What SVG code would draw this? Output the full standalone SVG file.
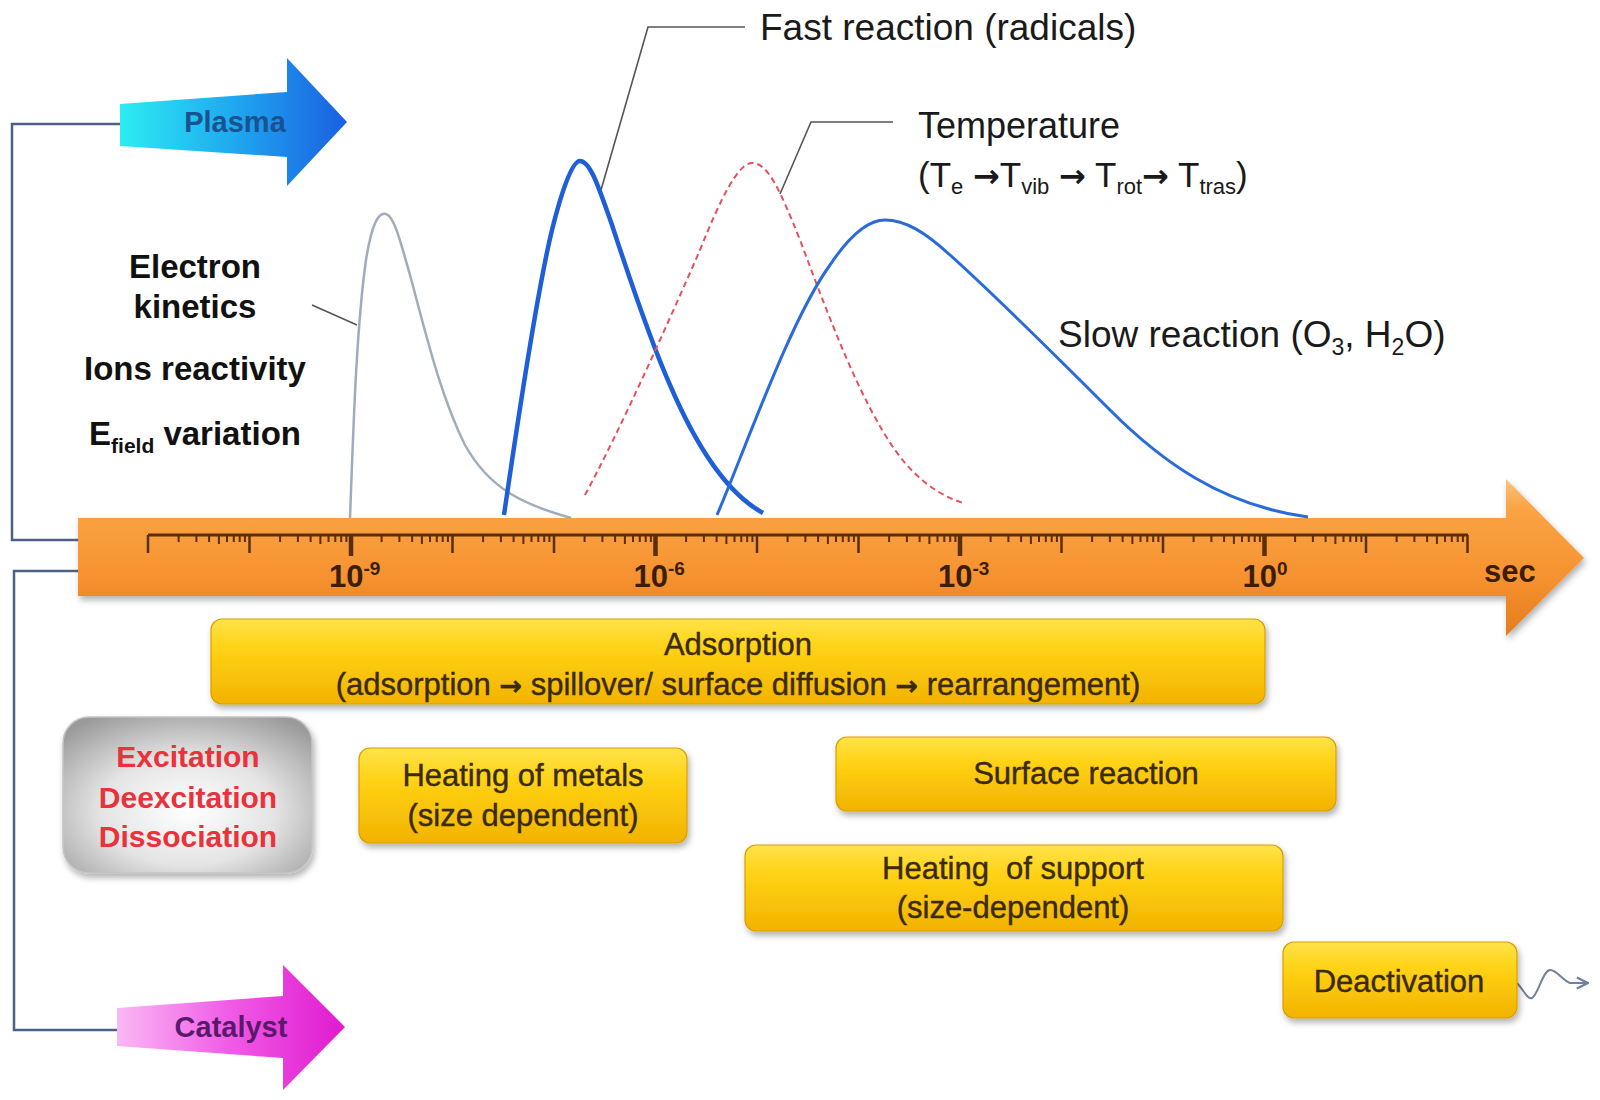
<svg xmlns="http://www.w3.org/2000/svg" xmlns:xlink="http://www.w3.org/1999/xlink" width="1600" height="1100" viewBox="0 0 1600 1100">
<defs>
<style>
.lbl{font-family:"Liberation Sans",Arial,sans-serif;fill:#1a1a1a}
.bold{font-family:"Liberation Sans",Arial,sans-serif;font-weight:bold;fill:#111}
.box{fill:url(#yg);stroke:#D9A000;stroke-width:1.2;filter:url(#sh)}
.btxt{font-family:"Liberation Sans",Arial,sans-serif;font-size:31px;fill:#3A2A05;stroke:#3A2A05;stroke-width:0.4;text-anchor:middle}
.arr{font-family:"DejaVu Sans",sans-serif;font-weight:bold}
.red{font-family:"Liberation Sans",Arial,sans-serif;font-weight:bold;font-size:30px;fill:#E8323C;text-anchor:middle}
.axis{font-family:"Liberation Sans",Arial,sans-serif;font-weight:bold;font-size:31px;fill:#3A1E06}
.lead{fill:none;stroke:#555;stroke-width:1.6}
.brk{fill:none;stroke:#4A6284;stroke-width:2.5}
.tick{stroke:#5A2E08;fill:none}
</style>
<linearGradient id="yg" x1="0" y1="0" x2="0" y2="1">
<stop offset="0" stop-color="#FFE34A"/>
<stop offset="0.35" stop-color="#FFD214"/>
<stop offset="1" stop-color="#F2B300"/>
</linearGradient>
<linearGradient id="og" x1="0" y1="0" x2="0" y2="1">
<stop offset="0" stop-color="#FBC47E"/>
<stop offset="0.18" stop-color="#F9A445"/>
<stop offset="0.6" stop-color="#F79331"/>
<stop offset="1" stop-color="#E47C1C"/>
</linearGradient>
<linearGradient id="pg" x1="0" y1="0" x2="1" y2="0">
<stop offset="0" stop-color="#2CECF2"/>
<stop offset="0.5" stop-color="#1FA8F0"/>
<stop offset="1" stop-color="#1A5FE0"/>
</linearGradient>
<linearGradient id="cg" x1="0" y1="0" x2="1" y2="0">
<stop offset="0" stop-color="#FAB8F4"/>
<stop offset="0.5" stop-color="#F05AE6"/>
<stop offset="1" stop-color="#E01ACE"/>
</linearGradient>
<radialGradient id="sg" cx="0.5" cy="0.6" r="0.7">
<stop offset="0" stop-color="#FFFFFF"/>
<stop offset="0.5" stop-color="#E4E4E4"/>
<stop offset="1" stop-color="#9A9A9A"/>
</radialGradient>
<filter id="sh" x="-10%" y="-20%" width="125%" height="150%">
<feDropShadow dx="2" dy="4" stdDeviation="3" flood-color="#000" flood-opacity="0.3"/>
</filter>
<g id="dec" class="tick">
<path d="M0,0v18" stroke-width="2.5"/>
<path d="M30.6,0v7M48.4,0v7M61.1,0v7M70.9,0v9M79,0v7M85.8,0v7M91.7,0v7M96.9,0v7" stroke-width="2"/>
</g>
<marker id="oa" viewBox="0 0 10 10" refX="9" refY="5" markerWidth="7" markerHeight="7" orient="auto">
<path d="M1,1L9,5L1,9" fill="none" stroke="#7080A0" stroke-width="1.6"/>
</marker>
</defs>
<rect width="1600" height="1100" fill="#FFFFFF"/>

<g id="connectors">
<path class="brk" d="M122,124H12V540H80"/>
<path class="brk" d="M80,571H14V1030H119"/>
<path class="lead" d="M312,305L357,325"/>
<path class="lead" d="M601,190L648,27H745"/>
<path class="lead" d="M780,194L811,122H893"/>
<path d="M1517,983C1524,990 1527,1000 1532,998C1538,995 1543,970 1550,970C1557,970 1562,980 1570,983L1588,983" fill="none" stroke="#7080A0" stroke-width="2" marker-end="url(#oa)"/>
</g>

<g id="timeline">
<path d="M78,518H1506V479L1584,558L1506,636V596H78Z" fill="url(#og)" filter="url(#sh)"/>
<path class="tick" d="M148,535H1468" stroke-width="3"/>
<use xlink:href="#dec" x="148" y="535"/>
<use xlink:href="#dec" x="249.5" y="535"/>
<use xlink:href="#dec" x="351" y="535"/>
<use xlink:href="#dec" x="452.5" y="535"/>
<use xlink:href="#dec" x="554" y="535"/>
<use xlink:href="#dec" x="655.5" y="535"/>
<use xlink:href="#dec" x="757" y="535"/>
<use xlink:href="#dec" x="858.5" y="535"/>
<use xlink:href="#dec" x="960" y="535"/>
<use xlink:href="#dec" x="1061.5" y="535"/>
<use xlink:href="#dec" x="1163" y="535"/>
<use xlink:href="#dec" x="1264.5" y="535"/>
<use xlink:href="#dec" x="1366" y="535"/>
<path class="tick" d="M1467.5,535v18" stroke-width="2.5"/>
<path class="tick" d="M351,535v21M655.5,535v21M960,535v21M1264.5,535v21" stroke-width="4.5"/>
<text class="axis" x="329" y="587">10<tspan font-size="19" dy="-12">-9</tspan></text>
<text class="axis" x="633.5" y="587">10<tspan font-size="19" dy="-12">-6</tspan></text>
<text class="axis" x="938" y="587">10<tspan font-size="19" dy="-12">-3</tspan></text>
<text class="axis" x="1242.5" y="587">10<tspan font-size="19" dy="-12">0</tspan></text>
<text class="axis" x="1484" y="582" font-size="30">sec</text>
</g>

<g id="plasma">
<path d="M120,104L287,92V58L347,122L287,186V157L120,146Z" fill="url(#pg)"/>
<text class="bold" x="235" y="132" font-size="29" style="fill:#1A5290" text-anchor="middle">Plasma</text>
</g>

<g id="catalyst">
<path d="M117,1008L283,996V965L345,1027L283,1090V1058L117,1046Z" fill="url(#cg)"/>
<text class="bold" x="231" y="1037" font-size="29" style="fill:#5A1A6C" text-anchor="middle">Catalyst</text>
</g>

<g id="curves">
<path id="electron-curve" d="M350,518C353,440 356,330 366,260C372,222 379,212 386,214C394,216 400,240 410,275C425,330 440,395 465,445C490,490 525,505 571,518" fill="none" stroke="#A0ACBA" stroke-width="2.5"/>
<path id="fast-curve" d="M504,515C515,440 535,300 552,230C562,190 572,161 580,161C590,161 598,185 612,225C630,280 650,340 670,385C700,455 730,495 763,513" fill="none" stroke="#1E5FD8" stroke-width="4.5"/>
<path id="temp-curve" d="M585,495C620,430 665,330 700,250C720,200 738,163 752,163C768,163 780,190 800,240C830,320 860,400 895,450C920,485 945,497 963,503" fill="none" stroke="#E8505E" stroke-width="2" stroke-dasharray="6,4"/>
<path id="slow-curve" d="M717,515C745,450 790,320 830,265C850,235 868,220 885,220C905,220 925,232 950,255C1000,300 1060,360 1110,410C1160,460 1220,505 1308,517" fill="none" stroke="#2A6BDB" stroke-width="3"/>
</g>

<g id="labels">
<text class="lbl" x="760" y="40" font-size="37">Fast reaction (radicals)</text>
<text class="lbl" x="918" y="138" font-size="36">Temperature</text>
<text class="lbl" x="918" y="187" font-size="35">(T<tspan font-size="22" dy="7">e</tspan><tspan dy="-7"> </tspan><tspan class="arr" font-size="32">→</tspan><tspan>T</tspan><tspan font-size="22" dy="7">vib</tspan><tspan dy="-7"> </tspan><tspan class="arr" font-size="32">→</tspan><tspan> T</tspan><tspan font-size="22" dy="7">rot</tspan><tspan class="arr" font-size="32" dy="-7">→</tspan><tspan> T</tspan><tspan font-size="22" dy="7">tras</tspan><tspan dy="-7">)</tspan></text>
<text class="lbl" x="1058" y="347" font-size="37">Slow reaction (O<tspan font-size="23" dy="8">3</tspan><tspan dy="-8">, H</tspan><tspan font-size="23" dy="8">2</tspan><tspan dy="-8">O)</tspan></text>
<g text-anchor="middle">
<text class="bold" x="195" y="278" font-size="33">Electron</text>
<text class="bold" x="195" y="318" font-size="33">kinetics</text>
<text class="bold" x="195" y="380" font-size="33">Ions reactivity</text>
<text class="bold" x="195" y="445" font-size="33">E<tspan font-size="21" dy="8">field</tspan><tspan dy="-8"> variation</tspan></text>
</g>
</g>

<g id="adsorption">
<rect class="box" x="211" y="619" width="1054" height="85" rx="11"/>
<text class="btxt" x="738" y="655">Adsorption</text>
<text class="btxt" x="738" y="695">(adsorption <tspan class="arr" font-size="27">→</tspan> spillover/ surface diffusion <tspan class="arr" font-size="27">→</tspan> rearrangement)</text>
</g>

<g id="excitation">
<rect x="63" y="717" width="249" height="156" rx="26" fill="url(#sg)" stroke="#C4C4C4" stroke-width="1.5" filter="url(#sh)"/>
<text class="red" x="188" y="767">Excitation</text>
<text class="red" x="188" y="808">Deexcitation</text>
<text class="red" x="188" y="847">Dissociation</text>
</g>

<g id="heating-metals">
<rect class="box" x="359" y="748" width="328" height="95" rx="11"/>
<text class="btxt" x="523" y="786">Heating of metals</text>
<text class="btxt" x="523" y="826">(size dependent)</text>
</g>

<g id="surface-reaction">
<rect class="box" x="836" y="737" width="500" height="74" rx="11"/>
<text class="btxt" x="1086" y="784">Surface reaction</text>
</g>

<g id="heating-support">
<rect class="box" x="745" y="845" width="538" height="86" rx="11"/>
<text class="btxt" x="1013" y="879" style="white-space:pre">Heating  of support</text>
<text class="btxt" x="1013" y="918">(size-dependent)</text>
</g>

<g id="deactivation">
<rect class="box" x="1283" y="942" width="234" height="76" rx="11"/>
<text class="btxt" x="1399" y="992">Deactivation</text>
</g>
</svg>
